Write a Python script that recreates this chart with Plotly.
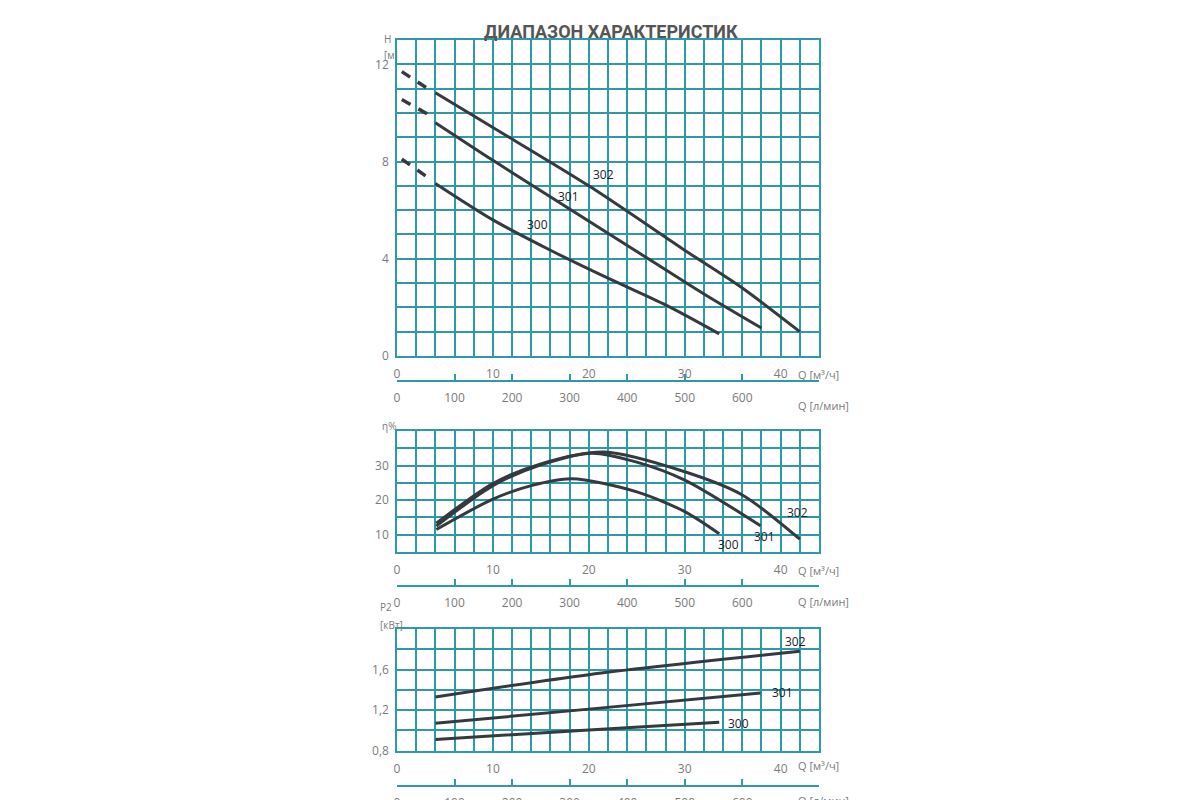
import plotly.graph_objects as go

# Q in m3/h
h_dash_q = [0.5, 3.2]
h302_dash = [11.7, 11.0]
h301_dash = [10.55, 9.95]
h300_dash = [8.1, 7.35]

h302_q = [4, 10, 20, 30, 36, 42]
h302 = [10.83, 9.4, 7.0, 4.35, 2.8, 1.0]
h301_q = [4, 10, 18, 26, 32, 38]
h301 = [9.6, 8.05, 6.05, 4.05, 2.55, 1.15]
h300_q = [4, 10, 16, 22, 28, 33.6]
h300 = [7.1, 5.6, 4.35, 3.2, 2.1, 0.91]

eff302_q = [4.1, 10, 15, 21.6, 30, 36, 42]
eff302 = [13.3, 24.8, 30.5, 33.9, 28.2, 21.5, 8.7]
eff301_q = [4.1, 10, 15, 20.3, 25, 30, 37.9]
eff301 = [12.5, 24.2, 30.2, 33.6, 31.0, 25.8, 12.6]
eff300_q = [4.1, 10, 14, 18.2, 25, 30, 33.6]
eff300 = [11.5, 20.3, 24.2, 26.2, 22.4, 16.7, 10.3]

p302_q = [4, 20, 42]
p302 = [1.33, 1.55, 1.78]
p301_q = [4, 20, 37.9]
p301 = [1.07, 1.21, 1.37]
p300_q = [4, 20, 33.6]
p300 = [0.91, 1.005, 1.08]

models = ["302", "301", "300"]

GRID = "#2e9aa6"
LINE = "#343a40"
TXT = "#7a7a7a"
FONT = "Open Sans"
W, H = 1200, 800


def py(p):
    return 1 - p / H


def px(p):
    return p / W


fig = go.Figure()

curves = [
    ("x", "y", h302_q, h302), ("x", "y", h301_q, h301), ("x", "y", h300_q, h300),
    ("x2", "y2", eff302_q, eff302), ("x2", "y2", eff301_q, eff301), ("x2", "y2", eff300_q, eff300),
    ("x3", "y3", p302_q, p302), ("x3", "y3", p301_q, p301), ("x3", "y3", p300_q, p300),
]
for xa, ya, q, v in curves:
    fig.add_trace(go.Scatter(x=q, y=v, mode="lines", xaxis=xa, yaxis=ya,
                             line=dict(color=LINE, width=3, shape="spline", smoothing=0.8),
                             showlegend=False))
for v in (h302_dash, h301_dash, h300_dash):
    fig.add_trace(go.Scatter(x=h_dash_q, y=v, mode="lines", xaxis="x", yaxis="y",
                             line=dict(color=LINE, width=3.5, dash="10px,9px"), showlegend=False))

# invisible traces so the l/min axes are drawn
for xa, ya in (("x4", "y"), ("x5", "y2"), ("x6", "y3")):
    fig.add_trace(go.Scatter(x=[0], y=[None], xaxis=xa, yaxis=ya, mode="lines",
                             showlegend=False, hoverinfo="skip"))

dom = [px(389), px(811)]
panels = [
    ("", [py(348), py(32)], [0, 13], [0, 4, 8, 12], ["0", "4", "8", "12"], 1),
    ("2", [py(544), py(423)], [5, 40], [10, 20, 30], ["10", "20", "30"], 5),
    ("3", [py(742.7), py(621)], [0.8, 2.0], [0.8, 1.2, 1.6], ["0,8", "1,2", "1,6"], 0.2),
]
lmin_pos = [py(373), py(578), py(778)]
tickfont = dict(family=FONT, size=12, color=TXT)
for i, (s, ydom, yr, yt, ytt, ydt) in enumerate(panels):
    fig.layout["xaxis" + s] = dict(
        domain=dom, range=[0, 44], anchor="y" + s, tickvals=[0, 10, 20, 30, 40],
        showgrid=True, gridcolor=GRID, gridwidth=1.5, zeroline=False, automargin=False,
        showline=True, mirror=True, linecolor=GRID, linewidth=1.5,
        minor=dict(dtick=2, tick0=0, showgrid=True, gridcolor=GRID, gridwidth=1.5),
        tickfont=tickfont, ticklabelstandoff=6)
    fig.layout["yaxis" + s] = dict(
        domain=ydom, range=yr, anchor="x" + s, tickvals=yt, ticktext=ytt,
        showgrid=True, gridcolor=GRID, gridwidth=1.5, zeroline=False, automargin=False,
        showline=True, mirror=True, linecolor=GRID, linewidth=1.5,
        minor=dict(dtick=ydt, tick0=yr[0], showgrid=True, gridcolor=GRID, gridwidth=1.5),
        tickfont=tickfont, ticklabelstandoff=4)
    fig.layout["xaxis" + str(4 + i)] = dict(
        domain=dom, range=[0, 44 * 100 / 6], anchor="free", position=lmin_pos[i],
        overlaying="x" + s, tickvals=[0, 100, 200, 300, 400, 500, 600], automargin=False,
        showgrid=False, zeroline=False, showline=True, linecolor=GRID, linewidth=2,
        ticks="inside", ticklen=6, tickcolor=GRID, tickwidth=1.5,
        tickfont=tickfont, ticklabelstandoff=6)
    for ypix, txt in (([366, 562, 757][i], "Q [м³/ч]"), ([397, 593, 792][i], "Q [л/мин]")):
        fig.add_annotation(x=px(788), y=py(ypix), xref="paper", yref="paper", text=txt,
                           showarrow=False, xanchor="left", yanchor="middle",
                           font=dict(family=FONT, size=11, color=TXT))

# curve labels
labels = [
    ("x", "y", [21.5, 17.9, 14.6], [7.46, 6.56, 5.4]),
    ("x2", "y2", [41.8, 38.3, 34.6], [16.5, 9.6, 7.3]),
    ("x3", "y3", [41.6, 40.2, 35.6], [1.88, 1.37, 1.07]),
]
for xa, ya, lx, ly in labels:
    for name, xx, yy in zip(models, lx, ly):
        fig.add_annotation(x=xx, y=yy, xref=xa, yref=ya, text=name, showarrow=False,
                           font=dict(family=FONT, size=12, color="#222"))

for txt, x0, y0 in (("H", 374, 22), ("[м]", 374, 38), ("η%", 372, 418),
                    ("P2", 370, 608), ("[кВт]", 370, 626)):
    fig.add_annotation(x=px(x0), y=py(y0), xref="paper", yref="paper", text=txt,
                       showarrow=False, font=dict(family=FONT, size=10, color=TXT))

fig.add_annotation(x=px(603), y=py(11), xref="paper", yref="paper",
                   text="<b>ДИАПАЗОН ХАРАКТЕРИСТИК</b>", showarrow=False,
                   font=dict(family="Liberation Sans Narrow, Roboto", size=18, color="#555"))

fig.update_layout(width=W, height=H, margin=dict(l=0, r=0, t=0, b=0),
                  plot_bgcolor="white", paper_bgcolor="white", showlegend=False)

fig.write_html("out.html")
